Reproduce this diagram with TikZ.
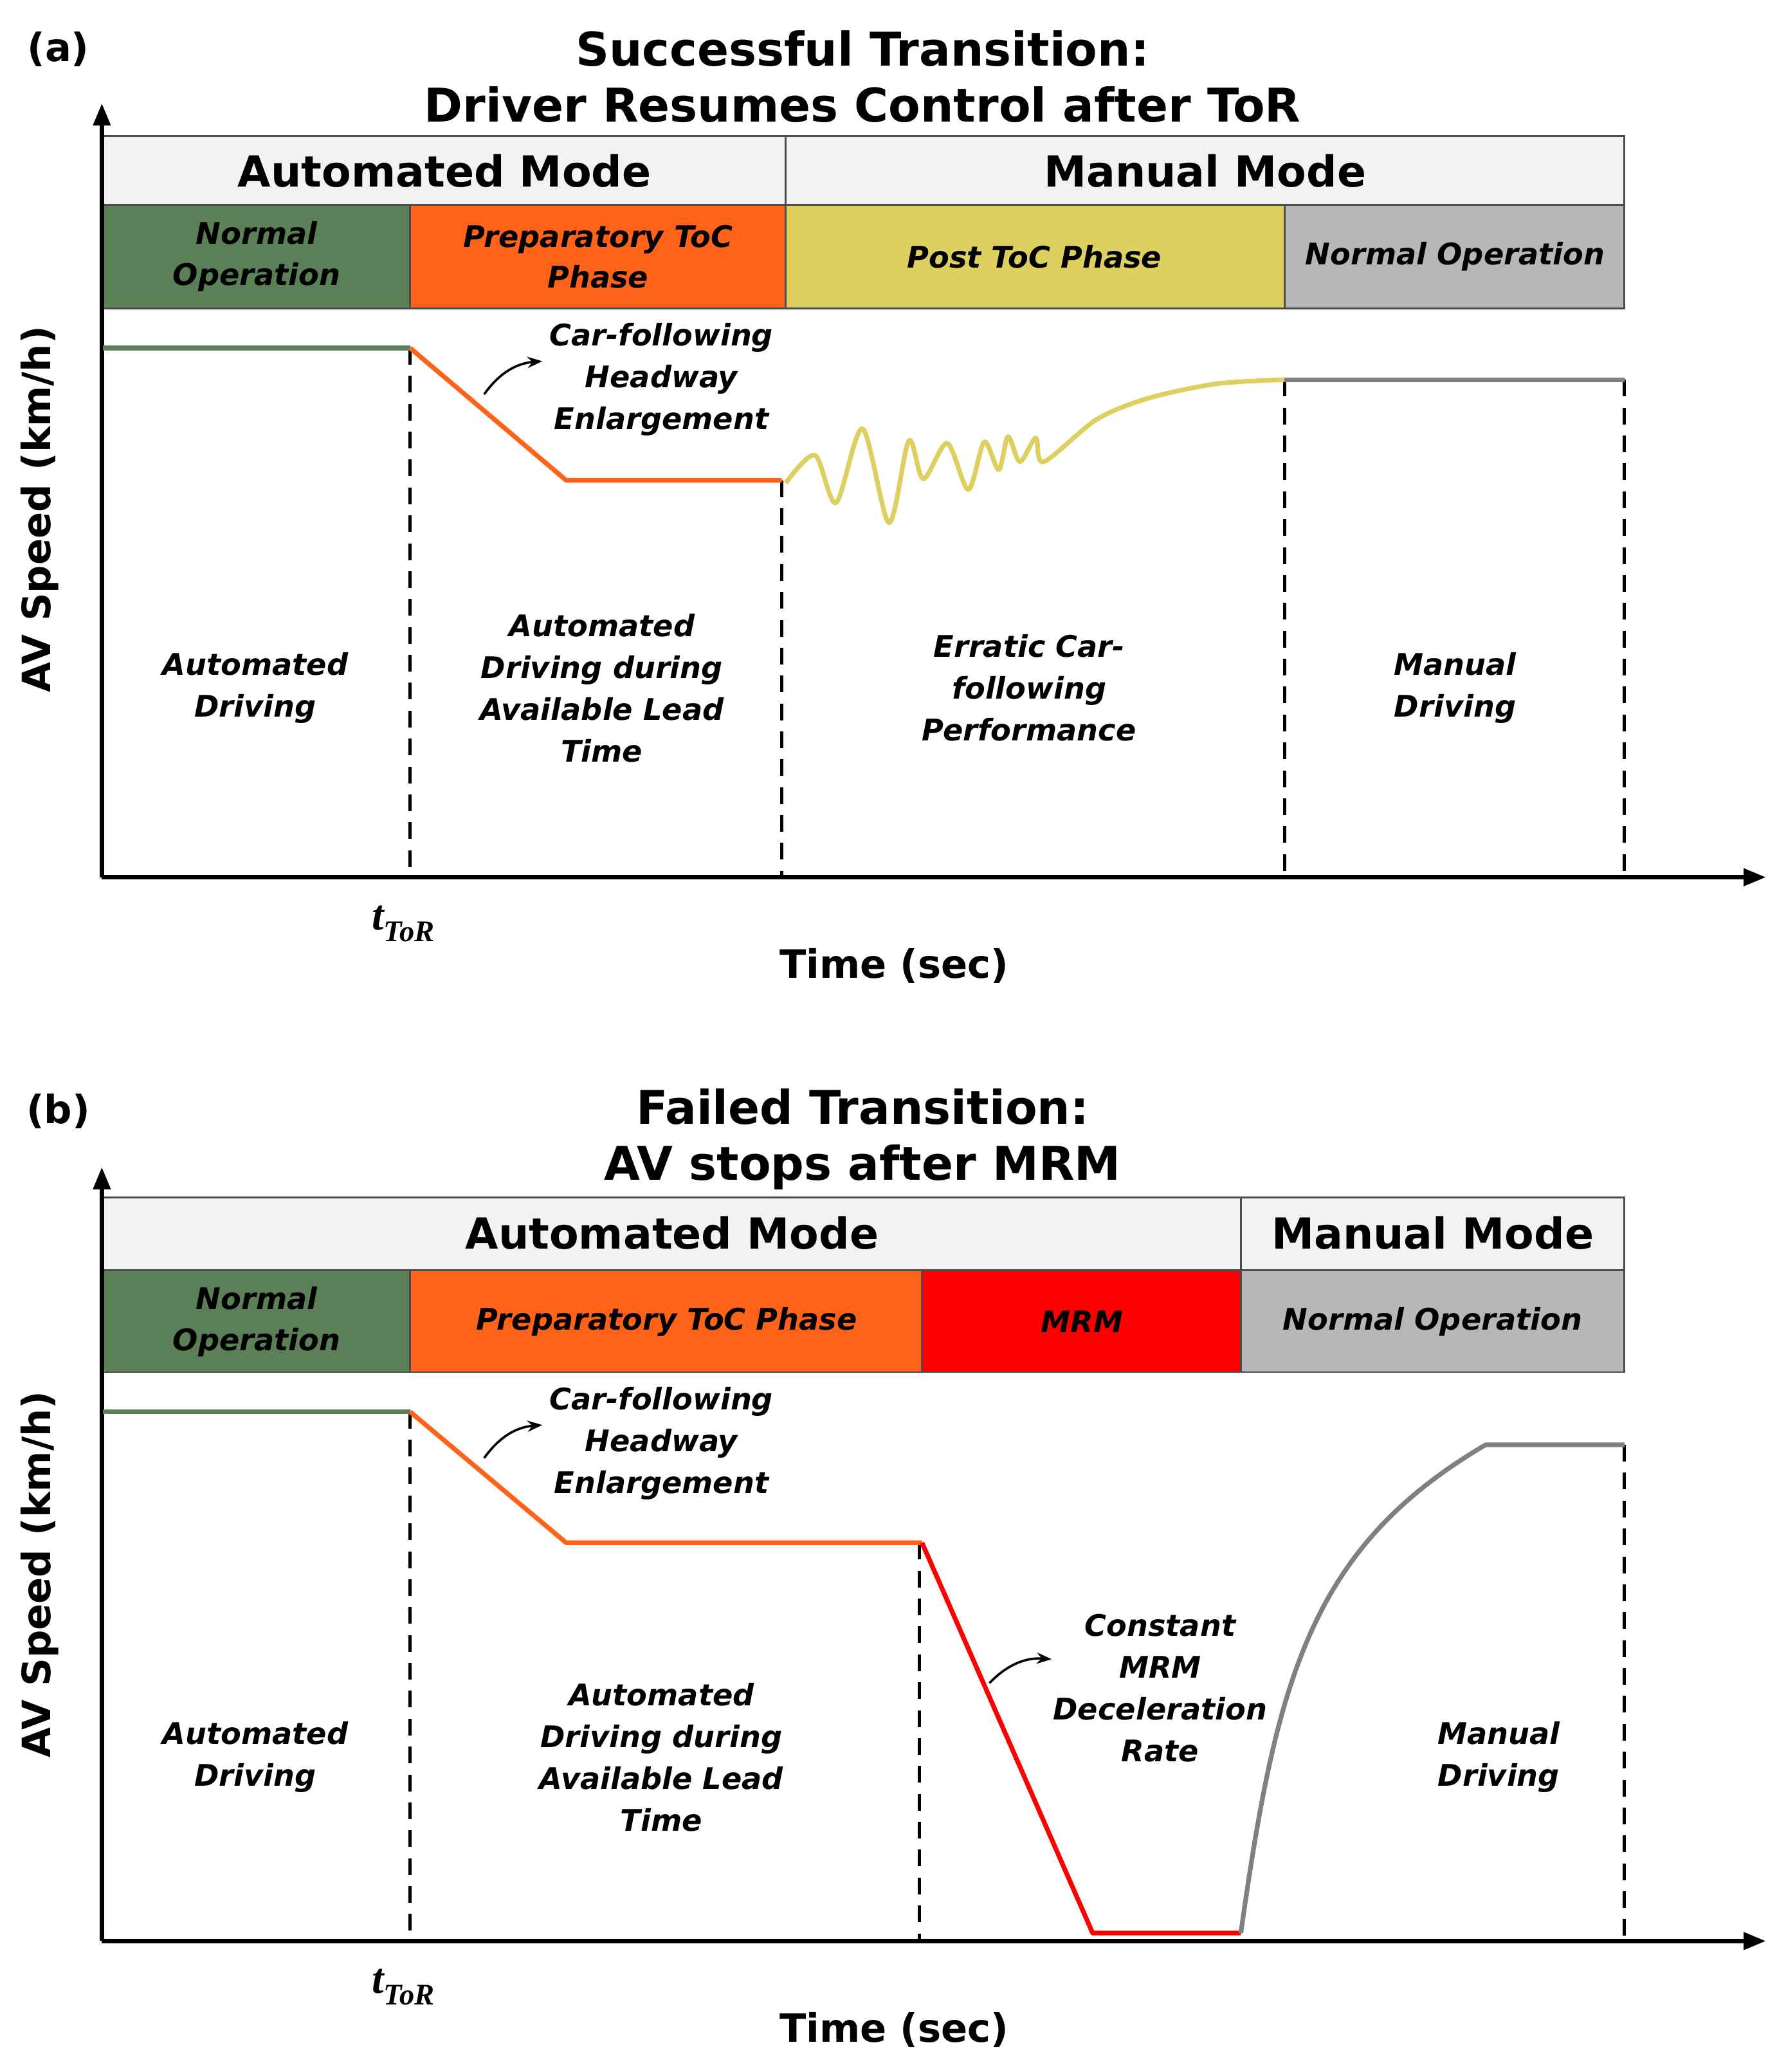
\documentclass[tikz,border=0pt]{standalone}
\usepackage{fontspec}
\setmainfont{DejaVu Sans}
\newfontfamily\serifbi{Liberation Serif}
\usetikzlibrary{arrows.meta}
\definecolor{cgreen}{HTML}{5B7F56}
\definecolor{corange}{HTML}{FF6319}
\definecolor{cyellow}{HTML}{DDD060}
\definecolor{cgray}{HTML}{B8B7B8}
\definecolor{chead}{HTML}{F2F2F2}
\definecolor{cred}{HTML}{FF0000}
\definecolor{lgray}{HTML}{808080}
\tikzset{
 box/.style={draw=black!70,line width=2pt,inner sep=0pt},
 hdr/.style={font=\fontsize{46}{52}\selectfont\bfseries},
 ph/.style={font=\fontsize{32}{44}\selectfont\bfseries\itshape,align=center},
 lbl/.style={font=\fontsize{32}{45}\selectfont\bfseries\itshape,align=center},
 ttl/.style={font=\fontsize{50}{60}\selectfont\bfseries,align=center},
 axl/.style={font=\fontsize{42}{48}\selectfont\bfseries},
 tor/.style={font=\fontsize{46}{50}\selectfont\serifbi\bfseries\itshape},
 ax/.style={line width=5pt,-{Triangle[length=24pt,width=18pt]}},
 vd/.style={line width=3.5pt,dash pattern=on 18pt off 12pt},
 crv/.style={line width=5pt,line join=round},
 sarr/.style={line width=2.5pt,-{Stealth[length=16pt,width=12pt]}},
}
\begin{document}
\begin{tikzpicture}[x=0.05cm,y=-0.05cm]
\useasboundingbox (0,0) rectangle (1350,1566);
% ===== panel a =====
\node[axl] (la) at (44,37) {(a)};
\node[ttl] (ta) at (652,58) {Successful Transition:\\Driver Resumes Control after ToR};
\draw[box,fill=chead] (78,103) rectangle (594,155);
\draw[box,fill=chead] (594,103) rectangle (1228,155);
\node[hdr] (ha1) at (336,129) {Automated Mode};
\node[hdr] (ha2) at (911,129) {Manual Mode};
\draw[box,fill=cgreen] (78,155) rectangle (310,233);
\draw[box,fill=corange] (310,155) rectangle (594,233);
\draw[box,fill=cyellow] (594,155) rectangle (971,233);
\draw[box,fill=cgray] (971,155) rectangle (1228,233);
\node[ph] (pa1) at (194,194) {Normal\\Operation};
\node[ph] (pa2) at (452,194) {Preparatory ToC\\Phase};
\node[ph] (pa3) at (782,194) {Post ToC Phase};
\node[ph] (pa4) at (1100,194) {Normal Operation};
\coordinate (oa) at (77,663);
\coordinate (ya) at (77,78);
\coordinate (xa) at (1335,663);
\draw[ax] (oa) -- (ya);
\draw[ax] (oa) -- (xa);
\draw[vd] (310,263) -- (310,663);
\draw[vd] (591,363) -- (591,663);
\draw[vd] (971,287) -- (971,663);
\draw[vd] (1228,287) -- (1228,663);
\draw[crv,cgreen] (78,263) -- (310,263);
\draw[crv,corange] (310,263) -- (428,363) -- (591,363);
\draw[crv,cyellow] plot[smooth,tension=0.5] coordinates {(594,365) (616,344) (632,380) (652,324) (672,395) (687,333) (698,362) (716,335) (732,370) (744,334) (755,355) (762,330) (771,349) (783,331) (789,349) (829,317) (868,301) (920,290) (971,287)};
\draw[crv,lgray] (971,287) -- (1228,287);
\coordinate (sa1) at (366,298);
\coordinate (sa2) at (410,273);
\draw[sarr] (sa1) to[bend left=25] (sa2);
\node[lbl] (ca) at (500,287) {Car-following\\Headway\\Enlargement};
\node[lbl] (a1) at (193,520) {Automated\\Driving};
\node[lbl] (a2) at (455,520) {Automated\\Driving during\\Available Lead\\Time};
\node[lbl] (a3) at (778,520) {Erratic Car-\\following\\Performance};
\node[lbl] (a4) at (1100,520) {Manual\\Driving};
\node[tor] (tta) at (305,698) {t\textsubscript{ToR}};
\node[axl] (xla) at (676,730) {Time (sec)};
\node[axl,rotate=90] (yla) at (30,385) {AV Speed (km/h)};
% ===== panel b =====
\node[axl] (lb) at (44,840) {(b)};
\node[ttl] (tb) at (652,861) {Failed Transition:\\AV stops after MRM};
\draw[box,fill=chead] (78,905) rectangle (938,960);
\draw[box,fill=chead] (938,905) rectangle (1228,960);
\node[hdr] (hb1) at (508,932) {Automated Mode};
\node[hdr] (hb2) at (1083,932) {Manual Mode};
\draw[box,fill=cgreen] (78,960) rectangle (310,1037);
\draw[box,fill=corange] (310,960) rectangle (697,1037);
\draw[box,fill=cred] (697,960) rectangle (938,1037);
\draw[box,fill=cgray] (938,960) rectangle (1228,1037);
\node[ph] (pb1) at (194,999) {Normal\\Operation};
\node[ph] (pb2) at (504,999) {Preparatory ToC Phase};
\node[ph] (pb3) at (818,999) {MRM};
\node[ph] (pb4) at (1083,999) {Normal Operation};
\coordinate (ob) at (77,1467);
\coordinate (yb) at (77,882);
\coordinate (xb) at (1335,1467);
\draw[ax] (ob) -- (yb);
\draw[ax] (ob) -- (xb);
\draw[vd] (310,1067) -- (310,1467);
\draw[vd] (695,1166) -- (695,1467);
\draw[vd] (1228,1092) -- (1228,1467);
\draw[crv,cgreen] (78,1067) -- (310,1067);
\draw[crv,corange] (310,1067) -- (428,1166) -- (697,1166);
\draw[crv,cred] (697,1166) -- (826,1461) -- (938,1461);
\draw[crv,lgray] (938,1461) .. controls (965,1270) and (990,1170) .. (1123,1092) -- (1228,1092);
\coordinate (sc1) at (366,1102);
\coordinate (sc2) at (410,1077);
\draw[sarr] (sc1) to[bend left=25] (sc2);
\coordinate (sb1) at (748,1272);
\coordinate (sb2) at (795,1254);
\draw[sarr] (sb1) to[bend left=25] (sb2);
\node[lbl] (cb) at (500,1091) {Car-following\\Headway\\Enlargement};
\node[lbl] (mb) at (877,1276) {Constant\\MRM\\Deceleration\\Rate};
\node[lbl] (b1) at (193,1328) {Automated\\Driving};
\node[lbl] (b2) at (500,1328) {Automated\\Driving during\\Available Lead\\Time};
\node[lbl] (b4) at (1133,1328) {Manual\\Driving};
\node[tor] (ttb) at (305,1502) {t\textsubscript{ToR}};
\node[axl] (xlb) at (676,1534) {Time (sec)};
\node[axl,rotate=90] (ylb) at (30,1190) {AV Speed (km/h)};
\end{tikzpicture}
\end{document}
